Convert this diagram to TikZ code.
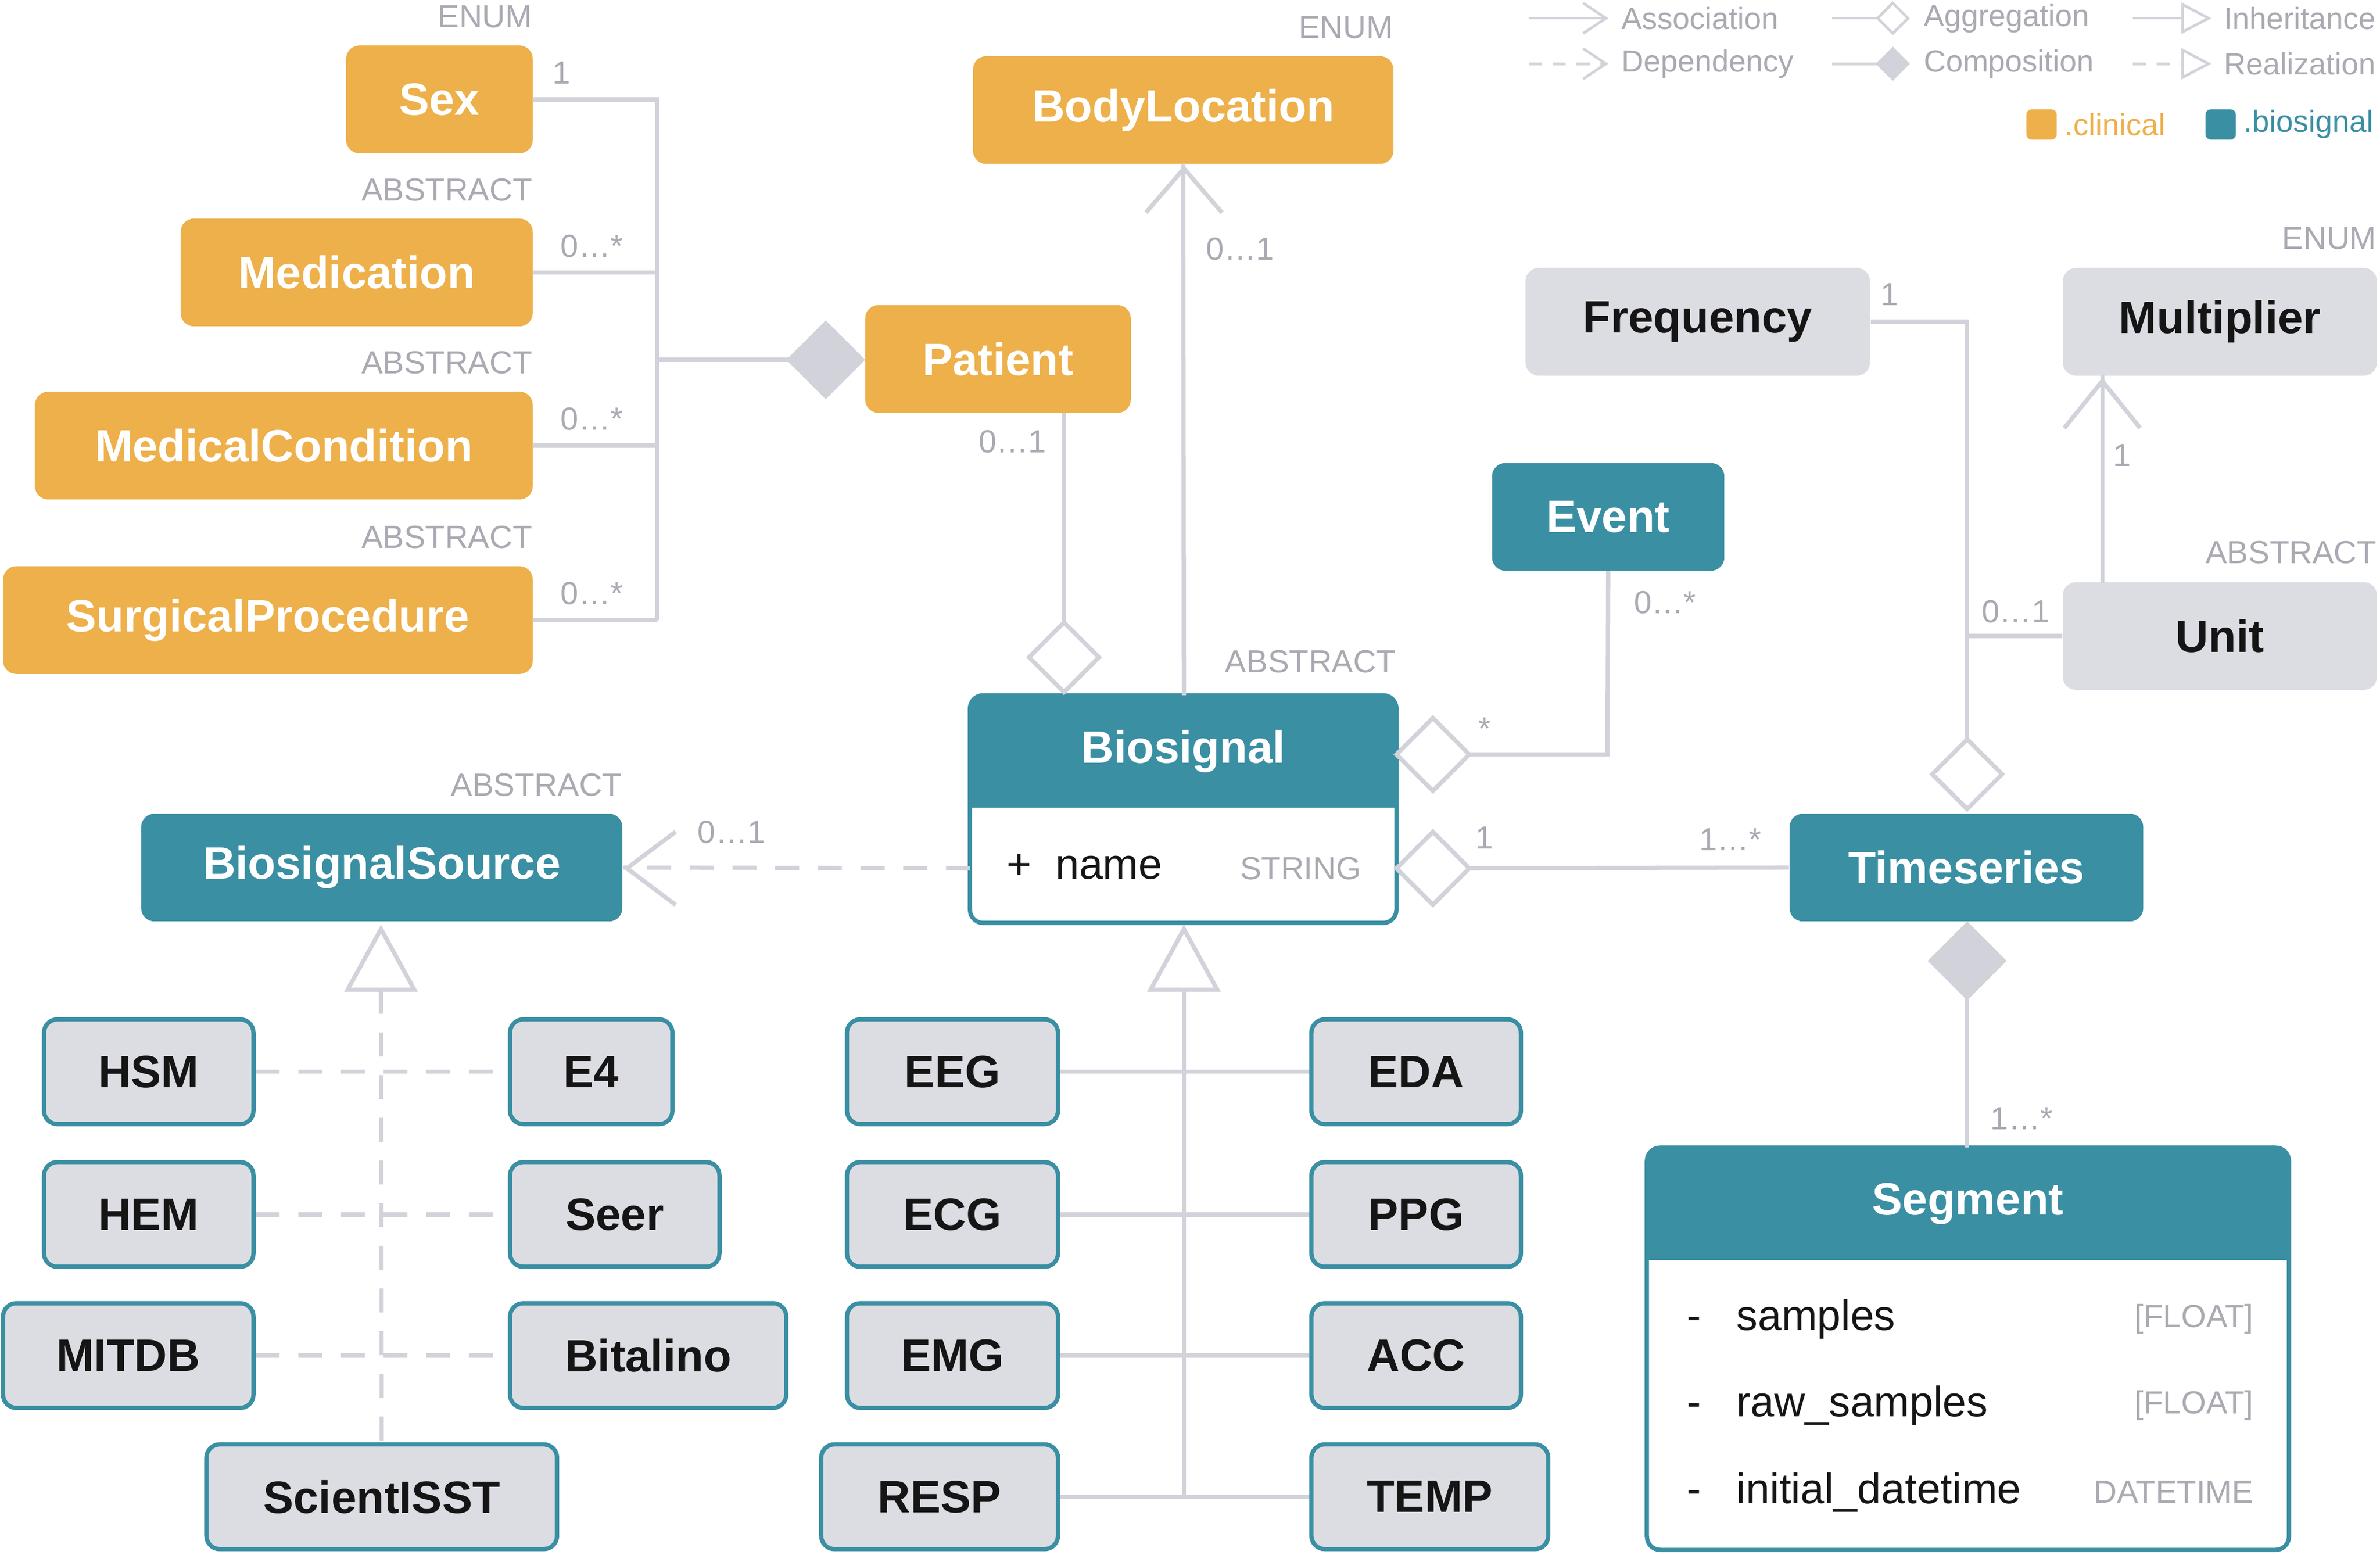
\documentclass[tikz,border=0pt]{standalone}
\usepackage{fontspec}
\setmainfont{Liberation Sans}
\usetikzlibrary{calc}
\definecolor{org}{HTML}{EDB04A}
\definecolor{tel}{HTML}{3A8FA3}
\definecolor{gbx}{HTML}{DCDDE3}
\definecolor{ln}{HTML}{D2D3DA}
\definecolor{lbl}{HTML}{A9AAB2}
\definecolor{ink}{HTML}{151515}
\begin{document}
\begin{tikzpicture}[x=0.02cm,y=-0.02cm,
 base/.style={rounded corners=5pt,minimum height=1.42cm,inner sep=0pt,font=\fontsize{17}{20}\selectfont\bfseries},
 ob/.style={base,fill=org,text=white,minimum width=#1*0.02cm},
 tb/.style={base,fill=tel,text=white,minimum width=#1*0.02cm},
 gb/.style={base,fill=gbx,text=ink,minimum width=#1*0.02cm},
 sb/.style={base,fill=gbx,text=ink,draw=tel,line width=1.6pt,minimum height=1.38cm,minimum width=#1*0.02cm},
 con/.style={draw=ln,line width=1.6pt},
 dsh/.style={con,dash pattern=on 9pt off 7pt},
 lab/.style={text=lbl,font=\fontsize{12}{14}\selectfont,inner sep=0pt},
 tag/.style={lab,anchor=east},
 od/.style={con,fill=white,line join=miter},
 fd/.style={draw=ln,fill=ln,line width=1.6pt},
]
\useasboundingbox (0,0) rectangle (1568,1024);
% clinical
\node[ob=123] (Sex) at (289.5,65.5) {Sex};
\node[ob=277] (Body) at (779.5,72.5) {BodyLocation};
\node[ob=232] (Med) at (235,179.5) {Medication};
\node[ob=328] (MC) at (187,293.5) {MedicalCondition};
\node[ob=349] (SP) at (176.5,408.5) {SurgicalProcedure};
\node[ob=175] (Pat) at (657.5,236.5) {Patient};
% gray
\node[gb=227] (Freq) at (1118.5,212) {Frequency};
\node[gb=207] (Mult) at (1462.5,212) {Multiplier};
\node[gb=207] (Unit) at (1462.5,419) {Unit};
\node[tb=153] (Event) at (1059.5,340.5) {Event};
\node[tb=317] (BS) at (251.5,571.5) {BiosignalSource};
\node[tb=233] (TS) at (1295.5,571.5) {Timeseries};
% tags
\node[tag] at (351,11) {ENUM};
\node[tag] at (918,18) {ENUM};
\node[tag] at (1566,157) {ENUM};
\node[tag] at (351,125) {ABSTRACT};
\node[tag] at (351,239) {ABSTRACT};
\node[tag] at (351,354) {ABSTRACT};
\node[tag] at (1566,364) {ABSTRACT};
\node[tag] at (410,517) {ABSTRACT};
\node[tag] at (920,436) {ABSTRACT};
% Biosignal class
\begin{scope}
\clip[rounded corners=5pt] (639,458) rectangle (920,608);
\fill[white] (639,458) rectangle (920,608);
\fill[tel] (639,458) rectangle (920,532);
\end{scope}
\draw[tel,line width=1.6pt,rounded corners=5pt] (639,458) rectangle (920,608);
\node[text=white,font=\fontsize{17}{20}\selectfont\bfseries] (Bio) at (779.5,495) {Biosignal};
\coordinate (BioT) at (780,458);
\coordinate (BioB) at (780,608);
\node[anchor=west,inner sep=0,text=ink,font=\fontsize{16}{19}\selectfont] at (663,571) {+\ \ name};
\node[lab,anchor=east,font=\fontsize{12}{14}\selectfont] at (897,572) {STRING};
% Segment class
\begin{scope}
\clip[rounded corners=5pt] (1085,756) rectangle (1508,1021);
\fill[white] (1085,756) rectangle (1508,1021);
\fill[tel] (1085,756) rectangle (1508,830);
\end{scope}
\draw[tel,line width=1.6pt,rounded corners=5pt] (1085,756) rectangle (1508,1021);
\node[text=white,font=\fontsize{17}{20}\selectfont\bfseries] (Seg) at (1296.5,793) {Segment};
\foreach \y/\n/\t in {869/samples/[FLOAT],926/raw\_samples/[FLOAT],983/initial\_datetime/DATETIME}{
 \node[anchor=west,inner sep=0,text=ink,font=\fontsize{16}{19}\selectfont] at (1111,\y) {-\ \ \ \n};
 \node[lab,anchor=east] at (1485,\y) {\t};}
% small boxes
\node[sb=138] (HSM) at (98,706) {HSM};
\node[sb=107] (E4) at (389.5,706) {E4};
\node[sb=138] (HEM) at (98,800) {HEM};
\node[sb=138] (Seer) at (405,800) {Seer};
\node[sb=165] (MIT) at (84.5,893) {MITDB};
\node[sb=182] (Bit) at (427,893) {Bitalino};
\node[sb=231] (Sci) at (251.5,986) {ScientISST};
\node[sb=139] (EEG) at (627.5,706) {EEG};
\node[sb=138] (EDA) at (933,706) {EDA};
\node[sb=139] (ECG) at (627.5,800) {ECG};
\node[sb=138] (PPG) at (933,800) {PPG};
\node[sb=139] (EMG) at (627.5,893) {EMG};
\node[sb=138] (ACC) at (933,893) {ACC};
\node[sb=156] (RESP) at (619,986) {RESP};
\node[sb=156] (TEMP) at (942,986) {TEMP};
% left bus to Patient
\draw[con] (Sex.east) -- (433,65.5) -- (433,408.5);
\draw[con] (Med.east) -- (433,179.5);
\draw[con] (MC.east) -- (433,293.5);
\draw[con] (SP.east) -- (433,408.5);
\draw[con] (433,237) -- (520,237);
\draw[fd] (520,237) -- (544,213) -- (568,237) -- (544,261) -- cycle;
\node[lab] at (370,48) {1};
\foreach \y in {162,276,391} \node[lab] at (390,\y) {0…*};
% Patient to Biosignal
\draw[con] (701,272) -- (701,410);
\draw[od] (701,410) -- (724,433) -- (701,456) -- (678,433) -- cycle;
\node[lab] at (667,291) {0…1};
% Biosignal to BodyLocation
\draw[con] (BioT) -- (Body.south);
\draw[con] (755,140) -- (780,111) -- (805,140);
\node[lab] at (817,164) {0…1};
% Event
\draw[con] (Event.south) -- (1059,497) -- (968,497);
\draw[od] (920,497) -- (944,473) -- (968,497) -- (944,521) -- cycle;
\node[lab] at (1097,397) {0…*};
\node[lab] at (978,480) {*};
% Timeseries
\draw[con] (968,572) -- (TS.west);
\draw[od] (920,572) -- (944,548) -- (968,572) -- (944,596) -- cycle;
\node[lab] at (978,552) {1};
\node[lab] at (1140,553) {1…*};
\draw[con] (Freq.east) -- (1296,212) -- (1296,487);
\draw[con] (Unit.west) -- (1296,419);
\draw[od] (1296,487) -- (1319,510) -- (1296,533) -- (1273,510) -- cycle;
\node[lab] at (1245,194) {1};
\node[lab] at (1328,403) {0…1};
\draw[con] (1385,384) -- (1385,247);
\draw[con] (1360,282) -- (1385,251) -- (1410,282);
\node[lab] at (1398,300) {1};
\draw[fd] (1296,609) -- (1320,633) -- (1296,657) -- (1272,633) -- cycle;
\draw[con] (1296,657) -- (1296,756);
\node[lab] at (1332,737) {1…*};
% Biosignal to BiosignalSource
\draw[dsh] (639,572) -- (BS.east);
\draw[con] (445,548) -- (413,572) -- (445,596);
\node[lab] at (482,548) {0…1};
% realizations
\draw[dsh] (251,652) -- (Sci.north);
\draw[od] (251,612) -- (273,652) -- (229,652) -- cycle;
\draw[dsh] (HSM.east) -- (E4.west);
\draw[dsh] (HEM.east) -- (Seer.west);
\draw[dsh] (MIT.east) -- (Bit.west);
% inheritance
\draw[con] (780,652) -- (780,986);
\draw[od] (780,612) -- (802,652) -- (758,652) -- cycle;
\draw[con] (EEG.east) -- (EDA.west);
\draw[con] (ECG.east) -- (PPG.west);
\draw[con] (EMG.east) -- (ACC.west);
\draw[con] (RESP.east) -- (TEMP.west);
% legend
\begin{scope}[lab/.append style={anchor=west,font=\fontsize{11.5}{14}\selectfont}]
\draw[con,line width=1pt] (1007,12) -- (1058,12);
\draw[con,line width=1pt] (1043,2) -- (1058,12) -- (1043,22);
\node[lab] at (1068,12) {Association};
\draw[con,line width=1pt,dash pattern=on 5pt off 4pt] (1007,42) -- (1058,42);
\draw[con,line width=1pt] (1043,32) -- (1058,42) -- (1043,52);
\node[lab] at (1068,42) {Dependency};
\draw[con,line width=1pt] (1207,12) -- (1237,12);
\draw[con,line width=1pt,fill=white] (1237,12) -- (1247,2) -- (1257,12) -- (1247,22) -- cycle;
\node[lab] at (1267,12) {Aggregation};
\draw[con,line width=1pt] (1207,42) -- (1237,42);
\draw[draw=ln,fill=ln,line width=1pt] (1237,42) -- (1247,32) -- (1257,42) -- (1247,52) -- cycle;
\node[lab] at (1267,42) {Composition};
\draw[con,line width=1pt] (1405,12) -- (1438,12);
\draw[con,line width=1pt,fill=white] (1438,3) -- (1455,12) -- (1438,21) -- cycle;
\node[lab] at (1465,12) {Inheritance};
\draw[con,line width=1pt,dash pattern=on 5pt off 4pt] (1405,42) -- (1438,42);
\draw[con,line width=1pt,fill=white] (1438,33) -- (1455,42) -- (1438,51) -- cycle;
\node[lab] at (1465,42) {Realization};
\fill[org,rounded corners=2pt] (1335,72) rectangle (1355,92);
\node[lab,text=org] at (1360,82) {.clinical};
\fill[tel,rounded corners=2pt] (1453,72) rectangle (1473,92);
\node[lab,text=tel] at (1478,82) {.biosignal};
\end{scope}
\end{tikzpicture}
\end{document}
